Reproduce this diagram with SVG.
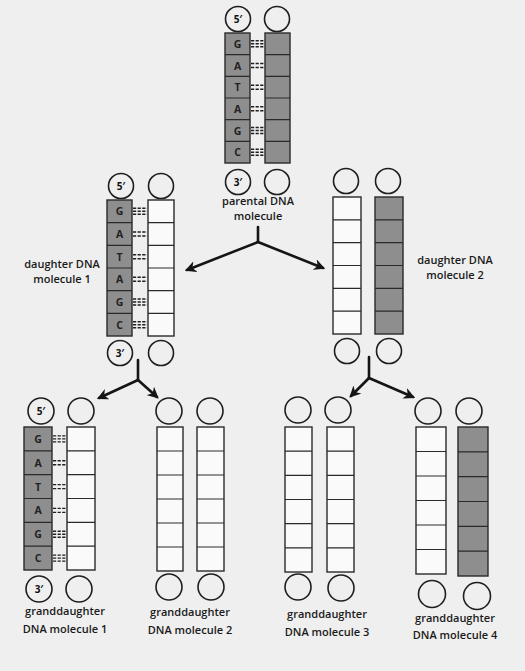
<svg xmlns="http://www.w3.org/2000/svg" width="525" height="671" viewBox="0 0 525 671">
<defs>
<style>
.bg{fill:#efefef}
.c{fill:none;stroke:#1e1e1e;stroke-width:1.6}
.sg{fill:#8e8e8e;stroke:#2a2a2a;stroke-width:1.4}
.sw{fill:#fafafa;stroke:#2a2a2a;stroke-width:1.4}
.dv{fill:none;stroke:#2a2a2a;stroke-width:1.2}
.hb{fill:none;stroke:#1e1e1e;stroke-width:1.4;stroke-dasharray:3.2,1.4}
.b{font-family:"Open Sans","Liberation Sans",sans-serif;font-size:10.5px;font-weight:700;fill:#222;text-anchor:middle;dominant-baseline:central}
.p{font-family:"Open Sans","Liberation Sans",sans-serif;font-size:10px;font-weight:700;fill:#111;text-anchor:middle;dominant-baseline:central}
.lb{font-family:"Open Sans","Liberation Sans",sans-serif;font-size:11px;font-weight:600;fill:#1a1a1a;text-anchor:middle}
.ar{fill:none;stroke:#151515;stroke-width:2.6;stroke-linecap:round;stroke-linejoin:round}
</style>
<marker id="ah" viewBox="0 0 10 10" refX="8" refY="5" markerWidth="4.4" markerHeight="4.4" orient="auto" markerUnits="strokeWidth">
<path d="M0,0 L10,5 L0,10 L3,5 z" fill="#151515"/>
</marker>
</defs>
<rect class="bg" x="0" y="0" width="525" height="671"/>

<g id="parental">
<circle class="c" cx="238" cy="19" r="12.5"/><text class="p" x="238" y="19">5′</text>
<circle class="c" cx="277" cy="19" r="12.5"/>
<rect class="sg" x="225" y="33" width="25" height="130"/>
<path class="dv" d="M225,54.7H250M225,76.3H250M225,98H250M225,119.7H250M225,141.3H250"/>
<rect class="sg" x="265" y="33" width="25" height="130"/>
<path class="dv" d="M265,54.7H290M265,76.3H290M265,98H290M265,119.7H290M265,141.3H290"/>
<path class="hb" d="M251,40.8H264M251,43.8H264M251,46.8H264M251,63.5H264M251,67.5H264M251,85.2H264M251,89.2H264M251,106.8H264M251,110.8H264M251,127.5H264M251,130.5H264M251,133.5H264M251,149.2H264M251,152.2H264M251,155.2H264"/>
<text class="b" x="237.5" y="43.8">G</text><text class="b" x="237.5" y="65.5">A</text><text class="b" x="237.5" y="87.2">T</text><text class="b" x="237.5" y="108.8">A</text><text class="b" x="237.5" y="130.5">G</text><text class="b" x="237.5" y="152.2">C</text>
<circle class="c" cx="238" cy="182" r="12.5"/><text class="p" x="238" y="182">3′</text>
<circle class="c" cx="277" cy="182" r="12.5"/>
<text class="lb" x="258" y="205">parental DNA</text>
<text class="lb" x="258" y="220">molecule</text>
</g>

<g id="daughter1">
<circle class="c" cx="121" cy="186" r="12.5"/><text class="p" x="121" y="186">5′</text>
<circle class="c" cx="161" cy="186" r="12.5"/>
<rect class="sg" x="107" y="200" width="25" height="136"/>
<path class="dv" d="M107,222.7H132M107,245.3H132M107,268H132M107,290.7H132M107,313.3H132"/>
<rect class="sw" x="148" y="200" width="26" height="136"/>
<path class="dv" d="M148,222.7H174M148,245.3H174M148,268H174M148,290.7H174M148,313.3H174"/>
<path class="hb" d="M133,208.3H147M133,211.3H147M133,214.3H147M133,232H147M133,236H147M133,254.7H147M133,258.7H147M133,277.3H147M133,281.3H147M133,299H147M133,302H147M133,305H147M133,321.7H147M133,324.7H147M133,327.7H147"/>
<text class="b" x="119.5" y="211.3">G</text><text class="b" x="119.5" y="234">A</text><text class="b" x="119.5" y="256.7">T</text><text class="b" x="119.5" y="279.3">A</text><text class="b" x="119.5" y="302">G</text><text class="b" x="119.5" y="324.7">C</text>
<circle class="c" cx="120" cy="353" r="12.5"/><text class="p" x="120" y="353">3′</text>
<circle class="c" cx="161" cy="353" r="12.5"/>
<text class="lb" x="62" y="268">daughter DNA</text>
<text class="lb" x="62" y="283">molecule 1</text>
</g>

<g id="daughter2">
<circle class="c" cx="346" cy="181" r="12.5"/>
<circle class="c" cx="388" cy="181" r="12.5"/>
<rect class="sw" x="333" y="197" width="28" height="137"/>
<path class="dv" d="M333,219.8H361M333,242.7H361M333,265.5H361M333,288.3H361M333,311.2H361"/>
<rect class="sg" x="375" y="197" width="28" height="137"/>
<path class="dv" d="M375,219.8H403M375,242.7H403M375,265.5H403M375,288.3H403M375,311.2H403"/>
<circle class="c" cx="347" cy="351" r="12.5"/>
<circle class="c" cx="389" cy="351" r="12.5"/>
<text class="lb" x="455" y="264">daughter DNA</text>
<text class="lb" x="455" y="279">molecule 2</text>
</g>

<g id="granddaughter1">
<circle class="c" cx="41" cy="411" r="13"/><text class="p" x="41" y="411">5′</text>
<circle class="c" cx="81" cy="411" r="13"/>
<rect class="sg" x="24" y="427" width="28" height="143"/>
<path class="dv" d="M24,450.8H52M24,474.7H52M24,498.5H52M24,522.3H52M24,546.2H52"/>
<rect class="sw" x="67" y="427" width="28" height="143"/>
<path class="dv" d="M67,450.8H95M67,474.7H95M67,498.5H95M67,522.3H95M67,546.2H95"/>
<path class="hb" d="M53,435.9H66M53,438.9H66M53,441.9H66M53,460.8H66M53,464.8H66M53,484.6H66M53,488.6H66M53,508.4H66M53,512.4H66M53,531.3H66M53,534.3H66M53,537.3H66M53,555.1H66M53,558.1H66M53,561.1H66"/>
<text class="b" x="38" y="438.9">G</text><text class="b" x="38" y="462.8">A</text><text class="b" x="38" y="486.6">T</text><text class="b" x="38" y="510.4">A</text><text class="b" x="38" y="534.3">G</text><text class="b" x="38" y="558.1">C</text>
<circle class="c" cx="39" cy="589" r="13"/><text class="p" x="39" y="589">3′</text>
<circle class="c" cx="79" cy="589" r="13"/>
<text class="lb" x="65" y="615">granddaughter</text>
<text class="lb" x="65" y="633">DNA molecule 1</text>
</g>

<g id="granddaughter2">
<circle class="c" cx="169" cy="411" r="13"/>
<circle class="c" cx="210" cy="411" r="13"/>
<rect class="sw" x="157" y="427" width="26" height="144"/>
<path class="dv" d="M157,451H183M157,475H183M157,499H183M157,523H183M157,547H183"/>
<rect class="sw" x="197" y="427" width="27" height="144"/>
<path class="dv" d="M197,451H224M197,475H224M197,499H224M197,523H224M197,547H224"/>
<circle class="c" cx="169" cy="587" r="13"/>
<circle class="c" cx="211" cy="587" r="13"/>
<text class="lb" x="190" y="616">granddaughter</text>
<text class="lb" x="190" y="634">DNA molecule 2</text>
</g>

<g id="granddaughter3">
<circle class="c" cx="298" cy="410" r="13"/>
<circle class="c" cx="338" cy="410" r="13"/>
<rect class="sw" x="285" y="427" width="27" height="145"/>
<path class="dv" d="M285,451.2H312M285,475.3H312M285,499.5H312M285,523.7H312M285,547.8H312"/>
<rect class="sw" x="327" y="427" width="27" height="145"/>
<path class="dv" d="M327,451.2H354M327,475.3H354M327,499.5H354M327,523.7H354M327,547.8H354"/>
<circle class="c" cx="298" cy="587" r="13"/>
<circle class="c" cx="341" cy="588" r="13"/>
<text class="lb" x="327" y="618">granddaughter</text>
<text class="lb" x="327" y="636">DNA molecule 3</text>
</g>

<g id="granddaughter4">
<circle class="c" cx="428" cy="411" r="13"/>
<circle class="c" cx="469" cy="411" r="13"/>
<rect class="sw" x="416" y="427" width="30" height="147"/>
<path class="dv" d="M416,451.5H446M416,476H446M416,500.5H446M416,525H446M416,549.5H446"/>
<rect class="sg" x="458" y="427" width="30" height="149"/>
<path class="dv" d="M458,451.8H488M458,476.7H488M458,501.5H488M458,526.3H488M458,551.2H488"/>
<circle class="c" cx="432" cy="594" r="13.5"/>
<circle class="c" cx="477" cy="596" r="13.5"/>
<text class="lb" x="455" y="622">granddaughter</text>
<text class="lb" x="455" y="639">DNA molecule 4</text>
</g>

<g id="connectors">
<path class="ar" d="M258,227V242"/>
<path class="ar" d="M258,242L187,270" marker-end="url(#ah)"/>
<path class="ar" d="M258,242L323,268" marker-end="url(#ah)"/>
<path class="ar" d="M138,360V380"/>
<path class="ar" d="M138,380L99,398" marker-end="url(#ah)"/>
<path class="ar" d="M138,380L157,397" marker-end="url(#ah)"/>
<path class="ar" d="M369,357V378"/>
<path class="ar" d="M369,378L351,396" marker-end="url(#ah)"/>
<path class="ar" d="M369,378L413,397" marker-end="url(#ah)"/>
</g>
</svg>
